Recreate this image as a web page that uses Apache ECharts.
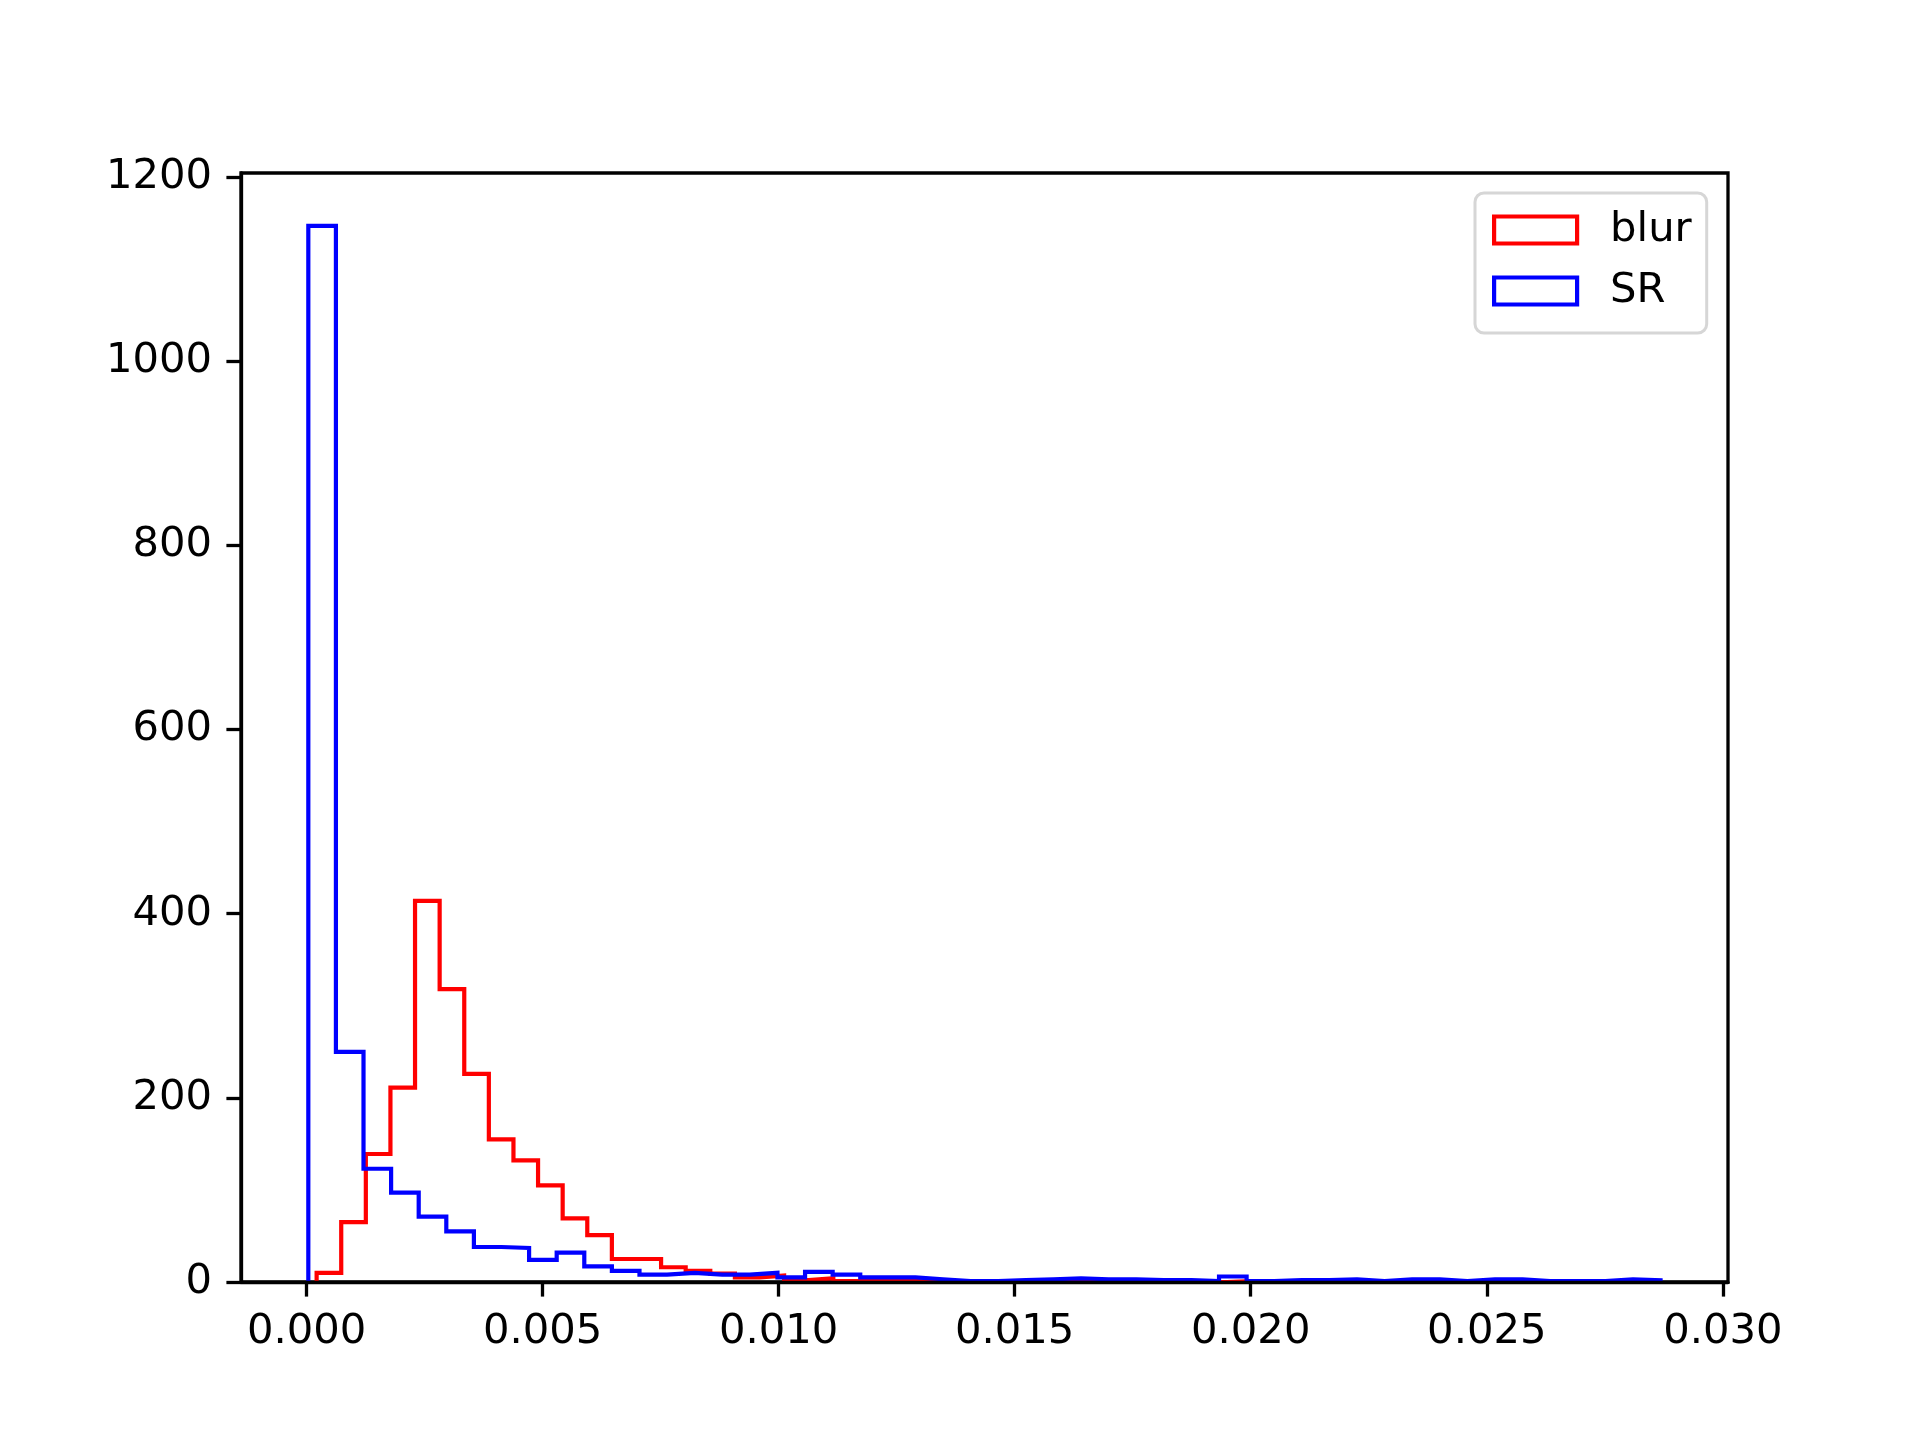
<!DOCTYPE html>
<html>
<head>
<meta charset="utf-8">
<script src="https://cdn.jsdelivr.net/npm/echarts@6/dist/echarts.min.js"></script>
<style>
  html, body { margin: 0; padding: 0; background: #fff; }
  #chart { width: 1920px; height: 1440px; }
</style>
</head>
<body>
<div id="chart"></div>
<script>
// ---- data ----
const seriesNames = ['blur', 'SR'];

// histogram of "blur": first bin edge and bin width (x units), counts per bin
const blurStart = 0.000212;
const blurBinWidth = 0.0005212;
const blurCounts = [10, 65, 139, 211, 414, 318, 226, 155, 132, 105,
                    69, 51, 25, 25, 16, 12, 9, 5, 7, 2,
                    4, 1, 2, 2, 0, 1, 0, 0, 0, 0,
                    0, 0, 0, 0, 0, 0, 0, 1, 0, 0,
                    0, 0, 0, 0, 0, 0, 0, 0, 1];

// histogram of "SR"
const srStart = 0.000036;
const srBinWidth = 0.0005846;
const srCounts = [1147, 250, 123, 97, 71, 55, 38, 37, 24, 32,
                  17, 12, 8, 10, 8, 8, 10, 5, 11, 8,
                  5, 5, 3, 1, 1, 2, 3, 4, 3, 3,
                  2, 2, 1, 6, 1, 2, 2, 3, 1, 3,
                  3, 1, 3, 3, 1, 1, 1, 3, 2];

const xTicks = [0, 0.005, 0.010, 0.015, 0.020, 0.025, 0.030];
const yTicks = [0, 200, 400, 600, 800, 1000, 1200];

// ---- build step outlines from bins ----
function histOutline(start, width, counts) {
  const pts = [[start, 0]];
  counts.forEach((c, i) => pts.push([start + i * width, c]));
  pts.push([start + counts.length * width, 0]);
  return pts;
}

const FONT = 'DejaVu Sans';
const chart = echarts.init(document.getElementById('chart'), null, { renderer: 'canvas' });

const option = {
  backgroundColor: '#ffffff',
  animation: false,
  grid: {
    left: 241, top: 173, width: 1487, height: 1109,
    show: true, borderColor: '#000', borderWidth: 3.3, backgroundColor: 'transparent'
  },
  xAxis: {
    type: 'value',
    min: -0.00139, max: 0.03011,
    z: 10,
    axisLine: { show: true, onZero: false, lineStyle: { color: '#000', width: 3.3 } },
    axisTick: { show: true, inside: false, length: 14.6, lineStyle: { color: '#000', width: 3.3 }, customValues: xTicks },
    axisLabel: { show: true, margin: 29, color: '#000', fontFamily: FONT, fontSize: 41.7,
                 customValues: xTicks, formatter: v => v.toFixed(3) },
    splitLine: { show: false }
  },
  yAxis: {
    type: 'value',
    min: 0, max: 1204.4,
    z: 10,
    axisLine: { show: true, onZero: false, lineStyle: { color: '#000', width: 3.3 } },
    axisTick: { show: true, inside: false, length: 14.6, lineStyle: { color: '#000', width: 3.3 }, customValues: yTicks },
    axisLabel: { show: true, margin: 29, color: '#000', fontFamily: FONT, fontSize: 41.7,
                 customValues: yTicks, formatter: v => String(v) },
    splitLine: { show: false }
  },
  legend: {
    orient: 'vertical',
    left: 1475, top: 193,
    padding: [16, 15, 21, 17],
    itemWidth: 83, itemHeight: 27, itemGap: 19,
    backgroundColor: '#fff', borderColor: '#d6d6d6', borderWidth: 3, borderRadius: 9,
    selectedMode: false,
    icon: 'rect',
    textStyle: { fontFamily: FONT, fontSize: 41.7, color: '#000', lineHeight: 27, padding: [0, 0, 0, 28] },
    data: [
      { name: seriesNames[0], icon: 'rect', itemStyle: { color: 'transparent', borderColor: '#ff0000', borderWidth: 4.2 } },
      { name: seriesNames[1], icon: 'rect', itemStyle: { color: 'transparent', borderColor: '#0000ff', borderWidth: 4.2 } }
    ]
  },
  series: [
    {
      name: seriesNames[0], type: 'line', step: 'end', showSymbol: false, symbol: 'none',
      clip: true, z: 2,
      lineStyle: { color: '#ff0000', width: 4.2, join: 'miter' },
      itemStyle: { color: '#ff0000' },
      data: histOutline(blurStart, blurBinWidth, blurCounts)
    },
    {
      name: seriesNames[1], type: 'line', step: 'end', showSymbol: false, symbol: 'none',
      clip: true, z: 3,
      lineStyle: { color: '#0000ff', width: 4.2, join: 'miter' },
      itemStyle: { color: '#0000ff' },
      data: histOutline(srStart, srBinWidth, srCounts)
    }
  ]
};
chart.setOption(option);
</script>
</body>
</html>
